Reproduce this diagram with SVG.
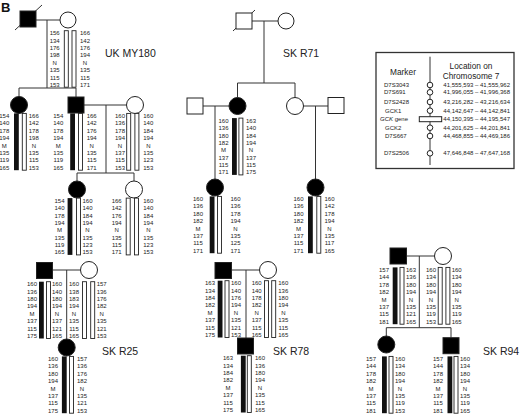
<svg xmlns="http://www.w3.org/2000/svg" width="520" height="414" viewBox="0 0 520 414">
<style>
.a{font-family:"Liberation Sans",Arial,sans-serif;font-size:6px;fill:#222;text-anchor:middle}
.fb{fill:#111}
.hb{fill:#fff;stroke:#222;stroke-width:0.9}
.af{fill:#000;stroke:#222;stroke-width:1}
.un{fill:#fff;stroke:#222;stroke-width:1}
.ln{stroke:#333;stroke-width:1;fill:none}
.lbl{font-family:"Liberation Sans",Arial,sans-serif;font-size:10.5px;fill:#222}
.lg{font-family:"Liberation Sans",Arial,sans-serif;font-size:6px;fill:#222}
.lh{font-family:"Liberation Sans",Arial,sans-serif;font-size:8.3px;fill:#222}
</style>
<rect width="520" height="414" fill="#fff"/>
<text x="1" y="11.7" font-family="Liberation Sans,Arial,sans-serif" font-size="13" font-weight="bold" fill="#111">B</text>

<g id="connectors">
<path class="ln" d="M36 20H60M47 20V88M19 88H76M19 88V96.5M76 88V97"/>
<path class="ln" d="M84 105H126.5M106 105V173M77 173H134M77 173V181M134 173V181"/>
<path class="ln" d="M15 30L42 5"/>
<path class="ln" d="M252 21H278M264 21V83M237.5 83H295M237.5 83V97.5M295 83V97.5"/>
<path class="ln" d="M233 31L255 10"/>
<path class="ln" d="M203 106H229M215 106V179M303.5 106H328M315.5 106V179"/>
<path class="ln" d="M52.5 270H80.5M66.7 270V339"/>
<path class="ln" d="M231.5 270H259.5M246 270V338"/>
<path class="ln" d="M406.5 256H434.5M419.3 256V327.7M386.3 327.7H451M386.3 327.7V336M451 327.7V337.7"/>
</g>

<g id="uk-labels"><text class="lbl" x="105" y="57">UK MY180</text></g>
<g id="sk71-label"><text class="lbl" x="283" y="57">SK R71</text></g>
<g id="sk25-label"><text class="lbl" x="102" y="354.5">SK R25</text></g>
<g id="sk78-label"><text class="lbl" x="273" y="354.5">SK R78</text></g>
<g id="sk94-label"><text class="lbl" x="483" y="354.5">SK R94</text></g>

<!-- UK MY180 -->
<g id="uk-I-1"><rect class="af" x="20" y="11" width="16" height="16"/></g>
<g id="uk-I-2"><circle class="un" cx="68" cy="20" r="8"/>
<rect class="hb" x="64.3" y="30.7" width="4" height="56.5"/><rect class="hb" x="72" y="30.7" width="4" height="56.5"/>
<text class="a" y="35.4"><tspan x="54.7">156</tspan><tspan x="54.7" dy="7.35">134</tspan><tspan x="54.7" dy="7.35">176</tspan><tspan x="54.7" dy="7.35">198</tspan><tspan x="54.7" dy="7.35">N</tspan><tspan x="54.7" dy="7.35">135</tspan><tspan x="54.7" dy="7.35">115</tspan><tspan x="54.7" dy="7.35">153</tspan></text>
<text class="a" y="35.4"><tspan x="85">166</tspan><tspan x="85" dy="7.35">142</tspan><tspan x="85" dy="7.35">176</tspan><tspan x="85" dy="7.35">194</tspan><tspan x="85" dy="7.35">N</tspan><tspan x="85" dy="7.35">135</tspan><tspan x="85" dy="7.35">115</tspan><tspan x="85" dy="7.35">171</tspan></text>
</g>
<g id="uk-II-1"><circle class="af" cx="19" cy="105" r="8.5"/>
<rect class="fb" x="14" y="113.4" width="4.8" height="56.8"/><rect class="hb" x="22.3" y="113.4" width="4" height="56.8"/>
<text class="a" y="118.1"><tspan x="4.2">154</tspan><tspan x="4.2" dy="7.35">140</tspan><tspan x="4.2" dy="7.35">178</tspan><tspan x="4.2" dy="7.35">194</tspan><tspan x="4.2" dy="7.35">M</tspan><tspan x="4.2" dy="7.35">135</tspan><tspan x="4.2" dy="7.35">119</tspan><tspan x="4.2" dy="7.35">165</tspan></text>
<text class="a" y="118.1"><tspan x="33.8">166</tspan><tspan x="33.8" dy="7.35">142</tspan><tspan x="33.8" dy="7.35">178</tspan><tspan x="33.8" dy="7.35">198</tspan><tspan x="33.8" dy="7.35">N</tspan><tspan x="33.8" dy="7.35">135</tspan><tspan x="33.8" dy="7.35">115</tspan><tspan x="33.8" dy="7.35">153</tspan></text>
</g>
<g id="uk-II-2"><rect class="af" x="68" y="97" width="16" height="16"/>
<rect class="fb" x="70.2" y="113.4" width="4.8" height="56.8"/><rect class="hb" x="78.5" y="113.4" width="4" height="56.8"/>
<text class="a" y="118.1"><tspan x="58.3">154</tspan><tspan x="58.3" dy="7.35">140</tspan><tspan x="58.3" dy="7.35">178</tspan><tspan x="58.3" dy="7.35">194</tspan><tspan x="58.3" dy="7.35">M</tspan><tspan x="58.3" dy="7.35">135</tspan><tspan x="58.3" dy="7.35">119</tspan><tspan x="58.3" dy="7.35">165</tspan></text>
<text class="a" y="118.1"><tspan x="91.7">166</tspan><tspan x="91.7" dy="7.35">142</tspan><tspan x="91.7" dy="7.35">176</tspan><tspan x="91.7" dy="7.35">194</tspan><tspan x="91.7" dy="7.35">N</tspan><tspan x="91.7" dy="7.35">135</tspan><tspan x="91.7" dy="7.35">115</tspan><tspan x="91.7" dy="7.35">171</tspan></text>
</g>
<g id="uk-II-3"><circle class="un" cx="135" cy="105" r="8.5"/>
<rect class="hb" x="126.7" y="113.4" width="4" height="56.8"/><rect class="hb" x="134.9" y="113.4" width="4" height="56.8"/>
<text class="a" y="118.1"><tspan x="120">160</tspan><tspan x="120" dy="7.35">136</tspan><tspan x="120" dy="7.35">178</tspan><tspan x="120" dy="7.35">194</tspan><tspan x="120" dy="7.35">N</tspan><tspan x="120" dy="7.35">137</tspan><tspan x="120" dy="7.35">115</tspan><tspan x="120" dy="7.35">153</tspan></text>
<text class="a" y="118.1"><tspan x="148.3">160</tspan><tspan x="148.3" dy="7.35">140</tspan><tspan x="148.3" dy="7.35">184</tspan><tspan x="148.3" dy="7.35">194</tspan><tspan x="148.3" dy="7.35">N</tspan><tspan x="148.3" dy="7.35">135</tspan><tspan x="148.3" dy="7.35">123</tspan><tspan x="148.3" dy="7.35">153</tspan></text>
</g>
<g id="uk-III-1"><circle class="af" cx="77" cy="189.5" r="8.5"/>
<rect class="fb" x="67.6" y="198.1" width="4.8" height="56.8"/><rect class="hb" x="76.5" y="198.1" width="4" height="56.8"/>
<text class="a" y="202.8"><tspan x="59.5">154</tspan><tspan x="59.5" dy="7.35">140</tspan><tspan x="59.5" dy="7.35">178</tspan><tspan x="59.5" dy="7.35">194</tspan><tspan x="59.5" dy="7.35">M</tspan><tspan x="59.5" dy="7.35">135</tspan><tspan x="59.5" dy="7.35">119</tspan><tspan x="59.5" dy="7.35">165</tspan></text>
<text class="a" y="202.8"><tspan x="87.5">160</tspan><tspan x="87.5" dy="7.35">140</tspan><tspan x="87.5" dy="7.35">184</tspan><tspan x="87.5" dy="7.35">194</tspan><tspan x="87.5" dy="7.35">N</tspan><tspan x="87.5" dy="7.35">135</tspan><tspan x="87.5" dy="7.35">123</tspan><tspan x="87.5" dy="7.35">153</tspan></text>
</g>
<g id="uk-III-2"><circle class="un" cx="134" cy="189.5" r="8.5"/>
<rect class="hb" x="126.2" y="198.1" width="4" height="56.8"/><rect class="hb" x="134.5" y="198.1" width="4" height="56.8"/>
<text class="a" y="202.8"><tspan x="116.7">166</tspan><tspan x="116.7" dy="7.35">142</tspan><tspan x="116.7" dy="7.35">176</tspan><tspan x="116.7" dy="7.35">194</tspan><tspan x="116.7" dy="7.35">N</tspan><tspan x="116.7" dy="7.35">135</tspan><tspan x="116.7" dy="7.35">115</tspan><tspan x="116.7" dy="7.35">171</tspan></text>
<text class="a" y="202.8"><tspan x="148.3">160</tspan><tspan x="148.3" dy="7.35">140</tspan><tspan x="148.3" dy="7.35">184</tspan><tspan x="148.3" dy="7.35">194</tspan><tspan x="148.3" dy="7.35">N</tspan><tspan x="148.3" dy="7.35">135</tspan><tspan x="148.3" dy="7.35">123</tspan><tspan x="148.3" dy="7.35">153</tspan></text>
</g>

<!-- SK R71 -->
<g id="r71-I-1"><rect class="un" x="236" y="13" width="16" height="16"/></g>
<g id="r71-I-2"><circle class="un" cx="286" cy="21" r="8"/></g>
<g id="r71-II-1"><rect class="un" x="187" y="98" width="16" height="16"/></g>
<g id="r71-II-2"><circle class="af" cx="237.5" cy="106" r="8.5"/>
<rect class="fb" x="232" y="118.1" width="4.8" height="56.8"/><rect class="hb" x="238.9" y="118.1" width="4" height="56.8"/>
<text class="a" y="122.8"><tspan x="223.5">160</tspan><tspan x="223.5" dy="7.35">136</tspan><tspan x="223.5" dy="7.35">180</tspan><tspan x="223.5" dy="7.35">182</tspan><tspan x="223.5" dy="7.35">M</tspan><tspan x="223.5" dy="7.35">137</tspan><tspan x="223.5" dy="7.35">115</tspan><tspan x="223.5" dy="7.35">171</tspan></text>
<text class="a" y="122.8"><tspan x="251">163</tspan><tspan x="251" dy="7.35">140</tspan><tspan x="251" dy="7.35">184</tspan><tspan x="251" dy="7.35">194</tspan><tspan x="251" dy="7.35">N</tspan><tspan x="251" dy="7.35">137</tspan><tspan x="251" dy="7.35">115</tspan><tspan x="251" dy="7.35">175</tspan></text>
</g>
<g id="r71-II-3"><circle class="un" cx="295" cy="106" r="8.5"/></g>
<g id="r71-II-4"><rect class="un" x="328" y="97.5" width="16" height="16"/></g>
<g id="r71-III-1"><circle class="af" cx="215" cy="187.5" r="8.5"/>
<rect class="fb" x="209.7" y="196.4" width="4.8" height="56.8"/><rect class="hb" x="217.5" y="196.4" width="4" height="56.8"/>
<text class="a" y="201.1"><tspan x="198">160</tspan><tspan x="198" dy="7.35">136</tspan><tspan x="198" dy="7.35">180</tspan><tspan x="198" dy="7.35">182</tspan><tspan x="198" dy="7.35">M</tspan><tspan x="198" dy="7.35">137</tspan><tspan x="198" dy="7.35">115</tspan><tspan x="198" dy="7.35">171</tspan></text>
<text class="a" y="201.1"><tspan x="235.5">160</tspan><tspan x="235.5" dy="7.35">136</tspan><tspan x="235.5" dy="7.35">178</tspan><tspan x="235.5" dy="7.35">194</tspan><tspan x="235.5" dy="7.35">N</tspan><tspan x="235.5" dy="7.35">135</tspan><tspan x="235.5" dy="7.35">125</tspan><tspan x="235.5" dy="7.35">171</tspan></text>
</g>
<g id="r71-III-2"><circle class="af" cx="315.5" cy="187.5" r="8.5"/>
<rect class="fb" x="308" y="196.4" width="4.8" height="56.8"/><rect class="hb" x="316.8" y="196.4" width="4" height="56.8"/>
<text class="a" y="201.1"><tspan x="298.5">160</tspan><tspan x="298.5" dy="7.35">136</tspan><tspan x="298.5" dy="7.35">180</tspan><tspan x="298.5" dy="7.35">182</tspan><tspan x="298.5" dy="7.35">M</tspan><tspan x="298.5" dy="7.35">137</tspan><tspan x="298.5" dy="7.35">115</tspan><tspan x="298.5" dy="7.35">171</tspan></text>
<text class="a" y="201.1"><tspan x="329.5">160</tspan><tspan x="329.5" dy="7.35">142</tspan><tspan x="329.5" dy="7.35">178</tspan><tspan x="329.5" dy="7.35">194</tspan><tspan x="329.5" dy="7.35">N</tspan><tspan x="329.5" dy="7.35">135</tspan><tspan x="329.5" dy="7.35">117</tspan><tspan x="329.5" dy="7.35">165</tspan></text>
</g>

<!-- Legend -->
<g id="legend">
<rect x="376" y="52.5" width="138" height="116" fill="#fff" stroke="#333" stroke-width="1.3"/>
<path class="ln" d="M430 56.7V165"/>
<text class="lh" x="403" y="74.7" text-anchor="middle">Marker</text>
<text class="lh" x="471" y="68.7" text-anchor="middle">Location on</text>
<text class="lh" x="471" y="79.2" text-anchor="middle">Chromosome 7</text>
<g fill="#fff" stroke="#222" stroke-width="1">
<circle cx="430" cy="85" r="2.8"/><circle cx="430" cy="92.3" r="2.8"/><circle cx="430" cy="102" r="2.8"/><circle cx="430" cy="110.7" r="2.8"/>
<rect x="419.3" y="116.7" width="22.4" height="5"/>
<circle cx="430" cy="127.7" r="2.8"/><circle cx="430" cy="136" r="2.8"/><circle cx="430" cy="153.3" r="2.8"/>
</g>
<text class="lg" x="384" y="87.1">D7S3043</text>
<text class="lg" x="384" y="94.4">D7S691</text>
<text class="lg" x="384" y="104.1">D7S2428</text>
<text class="lg" x="385" y="112.8">GCK1</text>
<text class="lg" x="380" y="121.1"><tspan font-style="italic">GCK</tspan> gene</text>
<text class="lg" x="385" y="129.8">GCK2</text>
<text class="lg" x="385" y="138.1">D7S667</text>
<text class="lg" x="384" y="155.4">D7S2506</text>
<text class="lg" x="443.3" y="87.1">41,555,593 – 41,555,962</text>
<text class="lg" x="443.3" y="94.4">41,996,055 – 41,996,368</text>
<text class="lg" x="443.3" y="104.1">43,216,282 – 43,216,634</text>
<text class="lg" x="443.3" y="112.8">44,142,647 – 44,142,841</text>
<text class="lg" x="443.3" y="121.1">44,150,395 – 44,195,547</text>
<text class="lg" x="443.3" y="129.8">44,201,625 – 44,201,841</text>
<text class="lg" x="443.3" y="138.1">44,468,855 – 44,469,186</text>
<text class="lg" x="443.3" y="155.4">47,646,848 – 47,647,168</text>
</g>

<!-- SK R25 -->
<g id="r25-father"><rect class="af" x="36.5" y="262.5" width="16" height="16"/>
<rect class="fb" x="39" y="281.7" width="4.8" height="56.8"/><rect class="hb" x="46.5" y="281.7" width="4" height="56.8"/>
<text class="a" y="286.4"><tspan x="32">160</tspan><tspan x="32" dy="7.35">136</tspan><tspan x="32" dy="7.35">180</tspan><tspan x="32" dy="7.35">194</tspan><tspan x="32" dy="7.35">M</tspan><tspan x="32" dy="7.35">137</tspan><tspan x="32" dy="7.35">115</tspan><tspan x="32" dy="7.35">175</tspan></text>
<text class="a" y="286.4"><tspan x="57">160</tspan><tspan x="57" dy="7.35">140</tspan><tspan x="57" dy="7.35">180</tspan><tspan x="57" dy="7.35">194</tspan><tspan x="57" dy="7.35">N</tspan><tspan x="57" dy="7.35">137</tspan><tspan x="57" dy="7.35">121</tspan><tspan x="57" dy="7.35">165</tspan></text>
</g>
<g id="r25-mother"><circle class="un" cx="89" cy="270" r="8.5"/>
<rect class="hb" x="82.5" y="281.7" width="4" height="56.8"/><rect class="hb" x="90.7" y="281.7" width="4" height="56.8"/>
<text class="a" y="286.4"><tspan x="74">160</tspan><tspan x="74" dy="7.35">138</tspan><tspan x="74" dy="7.35">183</tspan><tspan x="74" dy="7.35">194</tspan><tspan x="74" dy="7.35">N</tspan><tspan x="74" dy="7.35">135</tspan><tspan x="74" dy="7.35">115</tspan><tspan x="74" dy="7.35">165</tspan></text>
<text class="a" y="286.4"><tspan x="101.7">157</tspan><tspan x="101.7" dy="7.35">136</tspan><tspan x="101.7" dy="7.35">176</tspan><tspan x="101.7" dy="7.35">182</tspan><tspan x="101.7" dy="7.35">N</tspan><tspan x="101.7" dy="7.35">135</tspan><tspan x="101.7" dy="7.35">121</tspan><tspan x="101.7" dy="7.35">153</tspan></text>
</g>
<g id="r25-child"><circle class="af" cx="66.7" cy="347.5" r="8.5"/>
<rect class="fb" x="61.9" y="356.4" width="4.8" height="56.8"/><rect class="hb" x="69.5" y="356.4" width="4" height="56.8"/>
<text class="a" y="361.1"><tspan x="53">160</tspan><tspan x="53" dy="7.35">136</tspan><tspan x="53" dy="7.35">180</tspan><tspan x="53" dy="7.35">194</tspan><tspan x="53" dy="7.35">M</tspan><tspan x="53" dy="7.35">137</tspan><tspan x="53" dy="7.35">115</tspan><tspan x="53" dy="7.35">175</tspan></text>
<text class="a" y="361.1"><tspan x="82">157</tspan><tspan x="82" dy="7.35">136</tspan><tspan x="82" dy="7.35">176</tspan><tspan x="82" dy="7.35">182</tspan><tspan x="82" dy="7.35">N</tspan><tspan x="82" dy="7.35">135</tspan><tspan x="82" dy="7.35">121</tspan><tspan x="82" dy="7.35">153</tspan></text>
</g>

<!-- SK R78 -->
<g id="r78-father"><rect class="af" x="215" y="262.5" width="16.5" height="16"/>
<rect class="fb" x="217.7" y="280.7" width="4.8" height="56.8"/><rect class="hb" x="225" y="280.7" width="4" height="56.8"/>
<text class="a" y="285.4"><tspan x="210">163</tspan><tspan x="210" dy="7.35">134</tspan><tspan x="210" dy="7.35">184</tspan><tspan x="210" dy="7.35">182</tspan><tspan x="210" dy="7.35">M</tspan><tspan x="210" dy="7.35">137</tspan><tspan x="210" dy="7.35">115</tspan><tspan x="210" dy="7.35">175</tspan></text>
<text class="a" y="285.4"><tspan x="236">160</tspan><tspan x="236" dy="7.35">140</tspan><tspan x="236" dy="7.35">176</tspan><tspan x="236" dy="7.35">194</tspan><tspan x="236" dy="7.35">N</tspan><tspan x="236" dy="7.35">135</tspan><tspan x="236" dy="7.35">121</tspan><tspan x="236" dy="7.35">153</tspan></text>
</g>
<g id="r78-mother"><circle class="un" cx="268" cy="270" r="8.5"/>
<rect class="hb" x="264.5" y="280.7" width="4" height="56.8"/><rect class="hb" x="271.7" y="280.7" width="4" height="56.8"/>
<text class="a" y="285.4"><tspan x="256.7">160</tspan><tspan x="256.7" dy="7.35">140</tspan><tspan x="256.7" dy="7.35">178</tspan><tspan x="256.7" dy="7.35">182</tspan><tspan x="256.7" dy="7.35">N</tspan><tspan x="256.7" dy="7.35">137</tspan><tspan x="256.7" dy="7.35">115</tspan><tspan x="256.7" dy="7.35">165</tspan></text>
<text class="a" y="285.4"><tspan x="283.3">160</tspan><tspan x="283.3" dy="7.35">136</tspan><tspan x="283.3" dy="7.35">180</tspan><tspan x="283.3" dy="7.35">194</tspan><tspan x="283.3" dy="7.35">N</tspan><tspan x="283.3" dy="7.35">135</tspan><tspan x="283.3" dy="7.35">115</tspan><tspan x="283.3" dy="7.35">165</tspan></text>
</g>
<g id="r78-child"><rect class="af" x="237.5" y="338" width="16" height="16"/>
<rect class="fb" x="240.9" y="355.7" width="4.8" height="56.8"/><rect class="hb" x="247.3" y="355.7" width="4" height="56.8"/>
<text class="a" y="360.4"><tspan x="228">163</tspan><tspan x="228" dy="7.35">134</tspan><tspan x="228" dy="7.35">184</tspan><tspan x="228" dy="7.35">182</tspan><tspan x="228" dy="7.35">M</tspan><tspan x="228" dy="7.35">137</tspan><tspan x="228" dy="7.35">115</tspan><tspan x="228" dy="7.35">175</tspan></text>
<text class="a" y="360.4"><tspan x="260">160</tspan><tspan x="260" dy="7.35">136</tspan><tspan x="260" dy="7.35">180</tspan><tspan x="260" dy="7.35">194</tspan><tspan x="260" dy="7.35">N</tspan><tspan x="260" dy="7.35">135</tspan><tspan x="260" dy="7.35">115</tspan><tspan x="260" dy="7.35">165</tspan></text>
</g>

<!-- SK R94 -->
<g id="r94-father"><rect class="af" x="390" y="248" width="16.5" height="16"/>
<rect class="fb" x="392.7" y="267.4" width="4.8" height="56.8"/><rect class="hb" x="400" y="267.4" width="4" height="56.8"/>
<text class="a" y="272.1"><tspan x="384">157</tspan><tspan x="384" dy="7.35">144</tspan><tspan x="384" dy="7.35">178</tspan><tspan x="384" dy="7.35">182</tspan><tspan x="384" dy="7.35">M</tspan><tspan x="384" dy="7.35">137</tspan><tspan x="384" dy="7.35">115</tspan><tspan x="384" dy="7.35">181</tspan></text>
<text class="a" y="272.1"><tspan x="411">163</tspan><tspan x="411" dy="7.35">136</tspan><tspan x="411" dy="7.35">180</tspan><tspan x="411" dy="7.35">194</tspan><tspan x="411" dy="7.35">N</tspan><tspan x="411" dy="7.35">135</tspan><tspan x="411" dy="7.35">121</tspan><tspan x="411" dy="7.35">165</tspan></text>
</g>
<g id="r94-mother"><circle class="un" cx="443" cy="256" r="8.5"/>
<rect class="hb" x="438.2" y="267.4" width="4" height="56.8"/><rect class="hb" x="445.9" y="267.4" width="4" height="56.8"/>
<text class="a" y="272.1"><tspan x="431">160</tspan><tspan x="431" dy="7.35">134</tspan><tspan x="431" dy="7.35">180</tspan><tspan x="431" dy="7.35">194</tspan><tspan x="431" dy="7.35">N</tspan><tspan x="431" dy="7.35">135</tspan><tspan x="431" dy="7.35">119</tspan><tspan x="431" dy="7.35">153</tspan></text>
<text class="a" y="272.1"><tspan x="456.7">160</tspan><tspan x="456.7" dy="7.35">134</tspan><tspan x="456.7" dy="7.35">180</tspan><tspan x="456.7" dy="7.35">194</tspan><tspan x="456.7" dy="7.35">N</tspan><tspan x="456.7" dy="7.35">135</tspan><tspan x="456.7" dy="7.35">119</tspan><tspan x="456.7" dy="7.35">165</tspan></text>
</g>
<g id="r94-child1"><circle class="af" cx="386.3" cy="344.5" r="8.5"/>
<rect class="fb" x="382" y="356.4" width="4.8" height="56.8"/><rect class="hb" x="389" y="356.4" width="4" height="56.8"/>
<text class="a" y="361.1"><tspan x="371">157</tspan><tspan x="371" dy="7.35">144</tspan><tspan x="371" dy="7.35">178</tspan><tspan x="371" dy="7.35">182</tspan><tspan x="371" dy="7.35">M</tspan><tspan x="371" dy="7.35">137</tspan><tspan x="371" dy="7.35">115</tspan><tspan x="371" dy="7.35">181</tspan></text>
<text class="a" y="361.1"><tspan x="400">160</tspan><tspan x="400" dy="7.35">134</tspan><tspan x="400" dy="7.35">180</tspan><tspan x="400" dy="7.35">194</tspan><tspan x="400" dy="7.35">N</tspan><tspan x="400" dy="7.35">135</tspan><tspan x="400" dy="7.35">119</tspan><tspan x="400" dy="7.35">153</tspan></text>
</g>
<g id="r94-child2"><rect class="af" x="443" y="337.7" width="16" height="16"/>
<rect class="fb" x="447.5" y="356.4" width="4.8" height="56.8"/><rect class="hb" x="454" y="356.4" width="4" height="56.8"/>
<text class="a" y="361.1"><tspan x="438">157</tspan><tspan x="438" dy="7.35">144</tspan><tspan x="438" dy="7.35">178</tspan><tspan x="438" dy="7.35">182</tspan><tspan x="438" dy="7.35">M</tspan><tspan x="438" dy="7.35">137</tspan><tspan x="438" dy="7.35">115</tspan><tspan x="438" dy="7.35">181</tspan></text>
<text class="a" y="361.1"><tspan x="465">160</tspan><tspan x="465" dy="7.35">134</tspan><tspan x="465" dy="7.35">180</tspan><tspan x="465" dy="7.35">194</tspan><tspan x="465" dy="7.35">N</tspan><tspan x="465" dy="7.35">135</tspan><tspan x="465" dy="7.35">119</tspan><tspan x="465" dy="7.35">165</tspan></text>
</g>
</svg>
